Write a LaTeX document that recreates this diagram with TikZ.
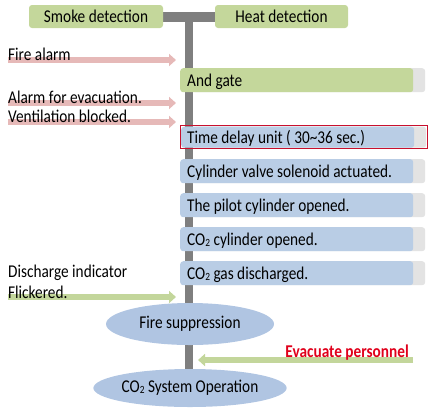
\documentclass[tikz,border=0pt]{standalone}
\usepackage{fontspec}
\setmainfont{Carlito}[FakeStretch=0.85]
\usetikzlibrary{arrows.meta,shapes.geometric,shadows,backgrounds}
\definecolor{boxgreen}{HTML}{C4D79B}
\definecolor{boxblue}{HTML}{B9CDE5}
\definecolor{ellblue}{HTML}{B0C5E2}
\definecolor{bargray}{HTML}{7F7F7F}
\definecolor{arrpink}{HTML}{E6B9B8}
\definecolor{arrgreen}{HTML}{C3D69B}
\definecolor{evred}{HTML}{E0001B}
\definecolor{framered}{HTML}{C8102E}
\newcommand{\cotwo}{CO\raisebox{-0.5pt}{\fontsize{11}{11}\selectfont 2}}
\tikzset{
  topbox/.style={fill=boxgreen, rounded corners=3pt, minimum height=23pt, inner sep=0pt},
  stepbox/.style={rounded corners=3pt, minimum width=233pt, minimum height=24pt,
     inner sep=0pt, anchor=north west,
     drop shadow={shadow xshift=12pt, shadow yshift=0pt, fill=black!11, opacity=1}},
  greenstep/.style={stepbox, fill=boxgreen},
  bluestep/.style={stepbox, fill=boxblue},
  steptext/.style={anchor=base west, inner sep=0pt},
  ell/.style={ellipse, fill=ellblue, inner sep=0pt},
  lbl/.style={anchor=base west, inner sep=0pt},
  pinkarr/.style={draw=arrpink, line width=6pt, -{Triangle[length=7pt,width=12pt]}},
  greenarr/.style={draw=arrgreen, line width=6pt, -{Triangle[length=7pt,width=12pt]}},
  bar/.style={draw=bargray, line width=8pt},
}
\begin{document}
\begin{tikzpicture}[x=1pt,y=-1pt, font=\fontsize{18}{20}\selectfont]
\useasboundingbox (0,0) rectangle (430,408);
% top boxes
\node[topbox, minimum width=134pt] (smoke) at (96,16.5) {Smoke detection};
\node[topbox, minimum width=133pt] (heat) at (281.5,16.5) {Heat detection};
% step boxes
\node[greenstep] (andg) at (180,68) {};
\node[bluestep, minimum height=21pt] (tdu) at (181,126.5) {};
\node[draw=framered, line width=1.3pt, minimum width=247pt, minimum height=23pt, anchor=north west, inner sep=0pt] (tdframe) at (180,125) {};
\node[bluestep] (cvs) at (180,159) {};
\node[bluestep] (pilot) at (180,193) {};
\node[bluestep] (cyl) at (180,227) {};
\node[bluestep] (gas) at (180,261) {};
\node[steptext] (andgt) at ([shift={(7,6.5)}]andg.west) {And gate};
\node[steptext] (tdut) at ([shift={(6,6.5)}]tdu.west) {Time delay unit ( 30\textasciitilde 36 sec.)};
\node[steptext] (cvst) at ([shift={(7,6.5)}]cvs.west) {Cylinder valve solenoid actuated.};
\node[steptext] (pilott) at ([shift={(7,6.5)}]pilot.west) {The pilot cylinder opened.};
\node[steptext] (cylt) at ([shift={(7,6.5)}]cyl.west) {\cotwo{} cylinder opened.};
\node[steptext] (gast) at ([shift={(7,6.5)}]gas.west) {\cotwo{} gas discharged.};
% ellipses
\node[ell, minimum width=168pt, minimum height=42pt] (fire) at (190,324) {Fire suppression};
\node[ell, minimum width=168pt, minimum height=38pt] (sysop) at (190,388) {\cotwo{} System Operation};
% bars
\coordinate (bartop) at (189,13);
\begin{scope}[on background layer]
\draw[bar, line width=10pt] (smoke.east) -- (heat.west);
\draw[bar] (bartop) -- (bartop|-sysop.center);
\end{scope}
% arrows
\coordinate (a1s) at (8,60);   \coordinate (a1e) at (176,60);
\coordinate (a2s) at (8,103);  \coordinate (a2e) at (176,103);
\coordinate (a3s) at (8,122);  \coordinate (a3e) at (176,122);
\coordinate (a4s) at (8,297);  \coordinate (a4e) at (176,297);
\coordinate (a5s) at (413,360); \coordinate (a5e) at (198,360);
\draw[pinkarr] (a1s) -- (a1e);
\draw[pinkarr] (a2s) -- (a2e);
\draw[pinkarr] (a3s) -- (a3e);
\draw[greenarr] (a4s) -- (a4e);
\draw[greenarr] (a5s) -- (a5e);
% labels
\node[lbl] (l1) at (8,60) {Fire alarm};
\node[lbl] (l2) at (8,103) {Alarm for evacuation.};
\node[lbl] (l3) at (8,122) {Ventilation blocked.};
\node[lbl] (l4) at (8,277) {Discharge indicator};
\node[lbl] (l5) at (8,298) {Flickered.};
\node[anchor=base east, inner sep=0pt, text=evred, font=\fontsize{18}{20}\selectfont\bfseries] (l6) at (409,357) {Evacuate personnel};
\end{tikzpicture}
\end{document}
